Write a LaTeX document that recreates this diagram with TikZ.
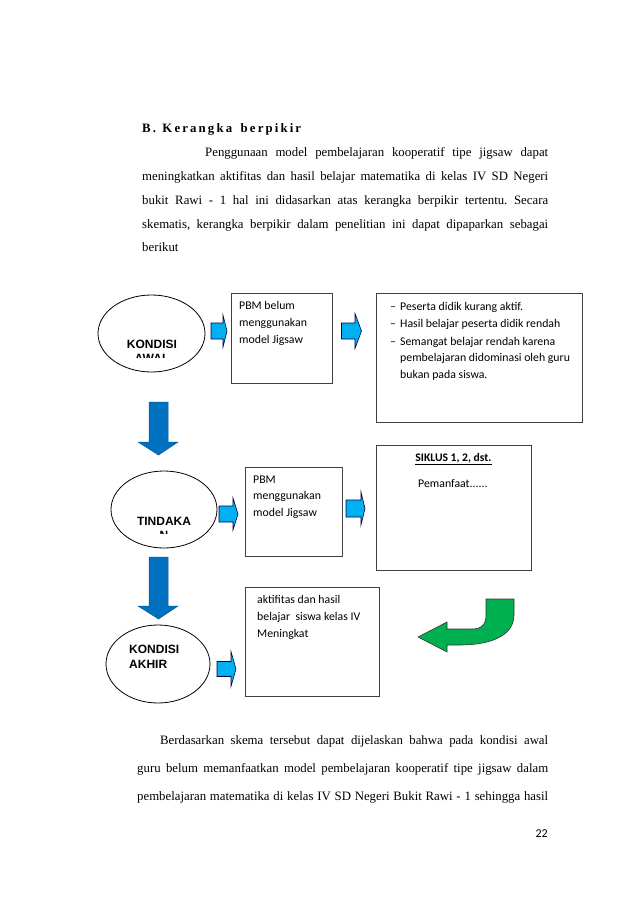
\documentclass[tikz,border=0pt]{standalone}
\usepackage{fontspec}
\usetikzlibrary{shapes.geometric}
\setmainfont{Liberation Serif}
\newfontfamily\calfont{Carlito}
\newfontfamily\arialfont{Liberation Sans}
\definecolor{lblue}{RGB}{0,176,240}
\definecolor{dblue}{RGB}{0,112,192}
\definecolor{dgreen}{RGB}{0,176,80}
\definecolor{boxline}{RGB}{64,64,64}
\frenchspacing
\newcommand\sarrow[7]{% name, xstart, xheadbase, xtip, yc, bodyhalf, headhalf
  \draw[sarr] (#2,{#5-#6}) -- (#3,{#5-#6}) -- (#3,{#5-#7}) -- (#4,#5) -- (#3,{#5+#7}) -- (#3,{#5+#6}) -- (#2,{#5+#6}) -- cycle;
  \coordinate (#1) at (#4,#5);}
\newcommand\barrow[3]{% name, ytop, ytip
  \draw[barr] (149,#2) -- (168,#2) -- (168,{#3-13}) -- (178,{#3-13}) -- (158.5,#3) -- (138,{#3-13}) -- (149,{#3-13}) -- cycle;
  \coordinate (#1) at (158.5,#3);}
\begin{document}
\begin{tikzpicture}[x=1pt,y=-1pt,
  body/.style={anchor=base west, inner sep=0, font=\fontsize{12.8}{15}\selectfont},
  lbl/.style={anchor=base west, inner sep=0, font=\calfont\fontsize{11.8}{14}\selectfont},
  elltext/.style={inner sep=0, font=\arialfont\bfseries\fontsize{12}{14}\selectfont},
  box/.style={draw=boxline, line width=1pt, anchor=north west, inner sep=0},
  ell/.style={draw=black, line width=0.8pt, ellipse, inner sep=0},
  sarr/.style={fill=lblue, draw=blue!30!black, line width=0.6pt, line join=miter},
  barr/.style={fill=dblue, draw=dblue!80!black, line width=0.5pt},
  garr/.style={fill=dgreen, draw=black!80, line width=0.6pt}]
\useasboundingbox (0,0) rectangle (638,902);
\fill[white] (0,0) rectangle (638,902);

% heading and first paragraph
\node[body, font=\bfseries\fontsize{12.8}{15}\selectfont] (h) at (142,132)
  {\makebox[157pt][s]{B\ .\ \ \ K\ e\ r\ a\ n\ g\ k\ a\ \ \ \ b\ e\ r\ p\ i\ k\ i\ r}};
\node[body] (p1) at (205,156) {\makebox[343pt][s]{Penggunaan model pembelajaran kooperatif tipe jigsaw dapat}};
\node[body] (p2) at (142,180) {\makebox[406pt][s]{meningkatkan aktifitas dan hasil belajar matematika di kelas IV SD Negeri}};
\node[body] (p3) at (142,204) {\makebox[406pt][s]{bukit Rawi - 1 hal ini didasarkan atas kerangka berpikir tertentu. Secara}};
\node[body] (p4) at (142,228) {\makebox[406pt][s]{skematis, kerangka berpikir dalam penelitian ini dapat dipaparkan sebagai}};
\node[body] (p5) at (142,251) {berikut};

% ellipses
\node[ell, minimum width=107, minimum height=77] (e1) at (151.5,333.5) {};
\node[ell, minimum width=106, minimum height=77] (e2) at (164,509.5) {};
\node[ell, minimum width=104, minimum height=78] (e3) at (158,664) {};
\node[elltext, anchor=base] (e1t) at (152,348) {KONDISI};
\begin{scope}
  \clip (100,340) rectangle (210,357);
  \node[elltext, anchor=base] (e1u) at (152,362) {AWAL};
\end{scope}
\node[elltext, anchor=base] (e2t) at (164,525) {TINDAKA};
\begin{scope}
  \clip (120,528) rectangle (210,533);
  \node[elltext, anchor=base] (e2u) at (164,539) {N};
\end{scope}
\node[elltext, anchor=base west] (e3t) at (129,653) {KONDISI};
\node[elltext, anchor=base west] (e3u) at (129,668) {AKHIR};

% boxes
\node[box, minimum width=101, minimum height=90] (b1) at (231,293) {};
\node[box, minimum width=206, minimum height=129] (b2) at (376,293) {};
\node[box, minimum width=97, minimum height=89] (b3) at (245,467) {};
\node[box, minimum width=155, minimum height=125] (b4) at (376,445) {};
\node[box, minimum width=134, minimum height=109] (b5) at (245,587) {};

% box texts
\node[lbl] (t11) at (239,309) {PBM belum};
\node[lbl] (t12) at (239,326) {menggunakan};
\node[lbl] (t13) at (239,343) {model Jigsaw};

\node[lbl] (d1) at (390,310) {\textendash};
\node[lbl] (d2) at (390,327) {\textendash};
\node[lbl] (d3) at (390,345) {\textendash};
\node[lbl] (t21) at (400,310) {Peserta didik kurang aktif.};
\node[lbl] (t22) at (400,327) {Hasil belajar peserta didik rendah};
\node[lbl] (t23) at (400,345) {Semangat belajar rendah karena};
\node[lbl] (t24) at (400,361) {pembelajaran didominasi oleh guru};
\node[lbl] (t25) at (400,378) {bukan pada siswa.};

\node[lbl] (t31) at (253,483) {PBM};
\node[lbl] (t32) at (253,499) {menggunakan};
\node[lbl] (t33) at (253,516) {model Jigsaw};

\node[lbl, anchor=base, font=\calfont\bfseries\fontsize{11.6}{14}\selectfont] (t41) at (453.5,461) {\underline{SIKLUS 1, 2, dst.}};
\node[lbl] (t42) at (418,487) {Pemanfaat......};

\node[lbl] (t51) at (257,603) {aktifitas dan hasil};
\node[lbl] (t52) at (257,620) {belajar\ \ siswa kelas IV};
\node[lbl] (t53) at (257,637) {Meningkat};

% small light-blue arrows
\sarrow{a1}{211}{223}{227}{331}{8}{16}
\sarrow{a2}{341.5}{355}{361.5}{331}{8}{17.5}
\sarrow{a3}{219}{233}{238}{514}{8}{16}
\sarrow{a4}{346}{361}{365}{508.5}{8.5}{16.5}
\sarrow{a5}{217}{231}{236}{669}{7.5}{17.5}

% big dark-blue arrows
\barrow{v1}{402}{455}
\barrow{v2}{557}{619}

% green return arrow
\draw[garr] (418,637) -- (447,622) -- (447,629) -- (472,629)
  .. controls (482,629) and (486,624) .. (486,615) -- (486,599) -- (514,599) -- (514,615)
  .. controls (514,636) and (490,645) .. (460,645) -- (447,645) -- (447,652) -- cycle;

% bottom paragraph
\node[body] (q1) at (160,744) {\makebox[388pt][s]{Berdasarkan skema tersebut dapat dijelaskan bahwa pada kondisi awal}};
\node[body] (q2) at (137,772) {\makebox[411pt][s]{guru belum memanfaatkan model pembelajaran kooperatif tipe jigsaw dalam}};
\node[body] (q3) at (137,800) {\makebox[411pt][s]{pembelajaran matematika di kelas IV SD Negeri Bukit Rawi - 1 sehingga hasil}};
\node[lbl, anchor=base east, font=\calfont\fontsize{12}{14}\selectfont] (pg) at (548,837) {22};
\end{tikzpicture}
\end{document}
